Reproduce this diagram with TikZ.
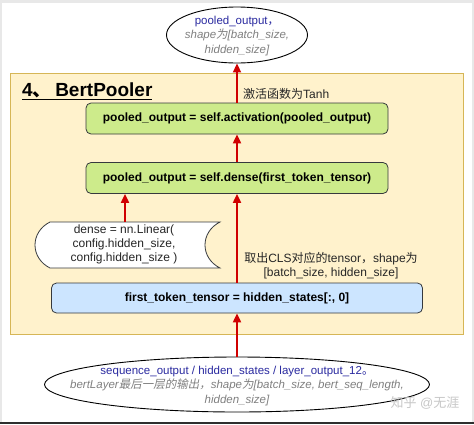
\documentclass[tikz,border=0pt]{standalone}
\usepackage{fontspec}
\setmainfont{Liberation Sans}
\newfontfamily\cjk{Noto Sans CJK SC}
\newfontfamily\cjkit[FakeSlant=0.2]{Noto Sans CJK SC}
\usetikzlibrary{shapes.geometric,arrows.meta}
\definecolor{myred}{HTML}{D00000}
\definecolor{boxline}{HTML}{36393D}
\definecolor{greenfill}{HTML}{CDEB8B}
\definecolor{bluefill}{HTML}{CCE5FF}
\definecolor{yelfill}{HTML}{FFF2CC}
\definecolor{yelline}{HTML}{D6B656}
\definecolor{ellblue}{HTML}{2A2AA0}
\definecolor{ellgray}{HTML}{808080}
\definecolor{frame}{HTML}{E8E8E8}
\definecolor{band}{HTML}{2E2E2E}
\begin{document}
\begin{tikzpicture}[x=1pt,y=-1pt,
  arr/.style={draw=myred, line width=2pt, -{Triangle[length=9pt,width=8pt]}},
  codebox/.style={draw=boxline, line width=0.8pt, rounded corners=5pt,
    font=\fontsize{12}{14}\selectfont\bfseries, minimum width=302pt, minimum height=31pt},
  ell/.style={draw=black, line width=0.9pt, ellipse, fill=white, inner sep=0pt},
  lbl/.style={font=\fontsize{12}{14}\selectfont, text=black!85, align=center},
  elltext/.style={font=\fontsize{11.5}{14.5}\selectfont, align=center}
]
\useasboundingbox (0,0) rectangle (474,424);
\fill[white] (0,0) rectangle (474,424);
\fill[frame] (0,0) rectangle (474,2.5);
\fill[frame] (0,0) rectangle (2,424);
\fill[frame] (472,0) rectangle (474,424);
\fill[band] (0,421.5) rectangle (474,424);

% container
\node[draw=yelline, fill=yelfill, line width=0.9pt, minimum width=453pt, minimum height=261pt, inner sep=0pt] (cont) at (236.5,203.5) {};
\node[anchor=base west, font=\fontsize{19}{21}\selectfont\bfseries, inner sep=0pt] (title) at (22,96) {\underline{4{\cjk 、}\hspace{3.5pt}BertPooler}};

% top ellipse
\node[ell, minimum width=141pt, minimum height=56pt] (topell) at (237,35) {};
\node[elltext, inner sep=0pt] (toptext) at (237,36) {\textcolor{ellblue}{pooled\_output{\cjk ，}}\\
  \textcolor{ellgray}{\itshape shape{\cjkit 为}[batch\_size,}\\
  \textcolor{ellgray}{\itshape hidden\_size]}};

% code boxes
\node[codebox, fill=greenfill] (act) at (237,118.5) {pooled\_output = self.activation(pooled\_output)};
\node[codebox, fill=greenfill] (dense2) at (237,178) {pooled\_output = self.dense(first\_token\_tensor)};
\node[codebox, fill=bluefill, minimum width=371pt, minimum height=30pt] (first) at (237,298) {first\_token\_tensor = hidden\_states[:, 0]};

% dense storage shape
\draw[fill=white, draw=boxline, line width=0.8pt] (50,222) -- (220,222)
  .. controls (200,232) and (200,258) .. (220,268) -- (50,268)
  .. controls (30,258) and (30,232) .. (50,222) -- cycle;
\node[lbl, font=\fontsize{12}{14}\selectfont, inner sep=0pt] (densetext) at (124,244.5) {dense = nn.Linear(\\config.hidden\_size,\\config.hidden\_size )};
\coordinate (densetop) at (125,222);

% bottom ellipse
\node[ell, minimum width=385pt, minimum height=55pt] (botell) at (237,384.5) {};
\node[elltext, inner sep=0pt] (bottext) at (237,386) {\textcolor{ellblue}{sequence\_output / hidden\_states / layer\_output\_12{\cjk 。}}\\
  \textcolor{ellgray}{\itshape bertLayer{\cjkit 最后一层的输出，}shape{\cjkit 为}[batch\_size, bert\_seq\_length,}\\
  \textcolor{ellgray}{\itshape hidden\_size]}};

% labels
\node[lbl, anchor=west, inner sep=0pt] (tanh) at (243,94) {{\cjk 激活函数为}Tanh};
\node[lbl, inner sep=0pt] (cls) at (331,266) {{\cjk 取出}CLS{\cjk 对应的}tensor{\cjk ，}shape{\cjk 为}\\{}[batch\_size, hidden\_size]};

% watermark
\node[font=\fontsize{13}{15}\selectfont, text=black!22, inner sep=0pt] (wm) at (425,403) {{\cjk 知乎} @{\cjk 无涯}};

% arrows
\draw[arr] (botell.north) -- (first.south);
\draw[arr] (first.north) -- (dense2.south);
\draw[arr] (densetop) -- (densetop |- dense2.south);
\draw[arr] (dense2.north) -- (act.south);
\draw[arr] (act.north) -- (topell.south);
\end{tikzpicture}
\end{document}
